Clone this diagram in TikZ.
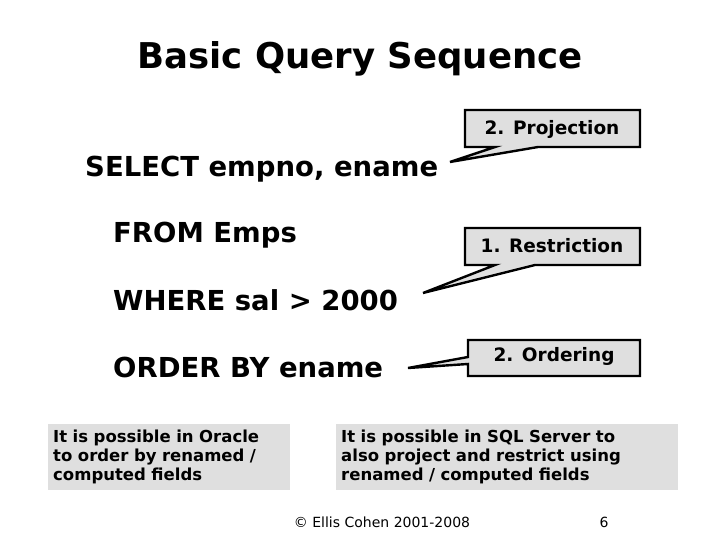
\documentclass[tikz,border=0pt]{standalone}
\usepackage{fontspec}
\setmainfont{DejaVu Sans}
\begin{document}
\begin{tikzpicture}[x=1pt,y=-1pt,
  txt/.style={anchor=base west,inner sep=0,font=\bfseries\fontsize{27.5}{30}\selectfont},
  call/.style={draw=black,line width=2.4pt,fill=gray!25},
  ctext/.style={inner sep=0,font=\bfseries\fontsize{18.5}{20}\selectfont},
  note/.style={fill=gray!25,inner sep=0,align=left,anchor=north west,font=\bfseries\fontsize{16.5}{19}\selectfont}]
\useasboundingbox (0,0) rectangle (720,540);
\node[inner sep=0,font=\bfseries\fontsize{35.5}{38}\selectfont] (title) at (360,59) {Basic Query Sequence};
\node[txt] (sel) at (85,177) {SELECT empno, ename};
\node[txt] (from) at (113,243) {FROM Emps};
\node[txt] (where) at (113,310) {WHERE sal > 2000};
\node[txt] (order) at (113,377) {ORDER BY ename};
% callouts
\coordinate (t1) at (450,162);
\draw[call] (465,110) -- (640,110) -- (640,147) -- (538,147) -- (t1) -- (495,147) -- (465,147) -- cycle;
\node[ctext] (proj) at (552,129) {2. Projection};
\coordinate (t2) at (423,293);
\draw[call] (465,228) -- (640,228) -- (640,265) -- (535,265) -- (t2) -- (495,265) -- (465,265) -- cycle;
\node[ctext] (restr) at (552,246) {1. Restriction};
\coordinate (t3) at (408,368);
\draw[call] (468,340) -- (640,340) -- (640,376) -- (468,376) -- (468,364) -- (t3) -- (468,357) -- cycle;
\node[ctext] (ord) at (554,356) {2. Ordering};
\node[note,minimum width=242,minimum height=66,text width=232,inner xsep=5,inner ysep=4] (n1) at (48,424) {It is possible in Oracle\\to order by renamed /\\computed fields};
\node[note,minimum width=342,minimum height=66,text width=332,inner xsep=5,inner ysep=4] (n2) at (336,424) {It is possible in SQL Server to\\also project and restrict using\\renamed / computed fields};
\node[inner sep=0,font=\fontsize{14}{16}\selectfont] (foot) at (382,522) {© Ellis Cohen 2001-2008};
\node[inner sep=0,font=\fontsize{14}{16}\selectfont] (pg) at (604,522) {6};
\end{tikzpicture}
\end{document}
